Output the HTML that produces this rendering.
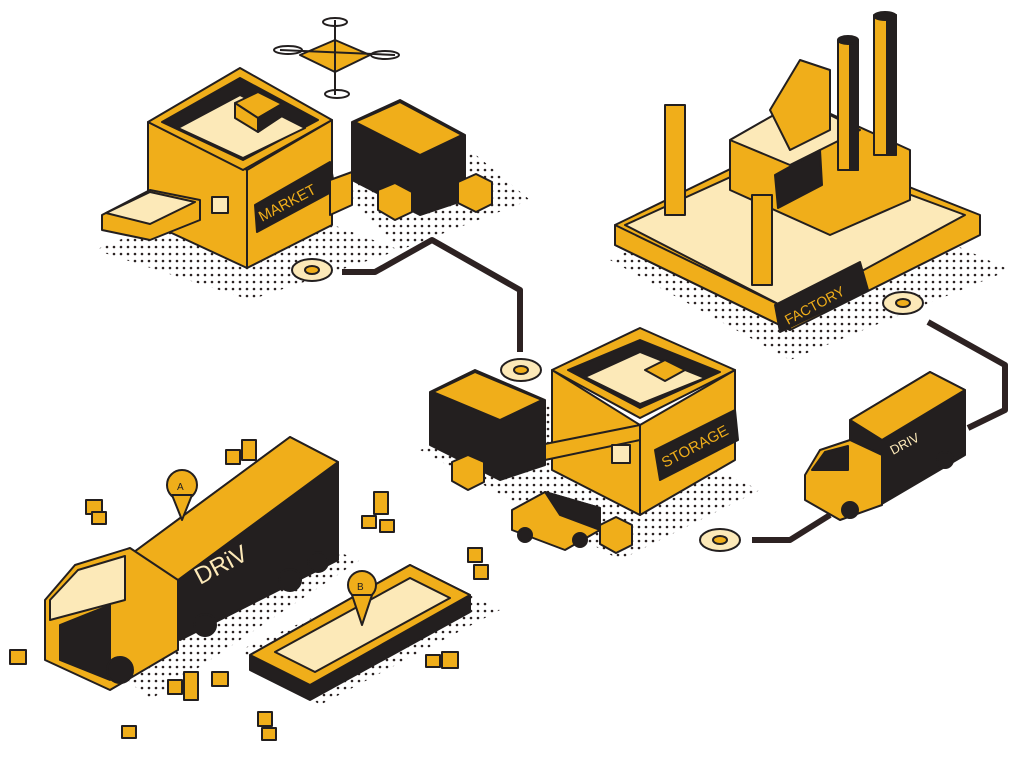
<!DOCTYPE html>
<html><head><meta charset="utf-8"><style>
html,body{margin:0;padding:0;background:#fff}
svg{display:block}
text{font-family:"Liberation Sans",sans-serif;stroke:none}
</style></head><body>
<svg width="1024" height="772" viewBox="0 0 1024 772" xmlns="http://www.w3.org/2000/svg">
<defs>
<pattern id="d" width="7" height="7" patternUnits="userSpaceOnUse"><circle cx="2" cy="2" r="1.3" fill="#2a2222"/></pattern>
</defs>
<g stroke="#231f1f" stroke-width="2" stroke-linejoin="round">
<polygon points="95,250 240,190 400,250 250,300" fill="url(#d)" stroke="none"/>
<polygon points="340,190 470,150 530,200 400,250" fill="url(#d)" stroke="none"/>
<polygon points="610,260 790,170 1010,270 790,360" fill="url(#d)" stroke="none"/>
<polygon points="420,450 560,400 760,490 620,560" fill="url(#d)" stroke="none"/>
<polygon points="60,620 250,520 360,560 150,700" fill="url(#d)" stroke="none"/>
<polygon points="240,650 420,570 500,610 320,705" fill="url(#d)" stroke="none"/>

<polyline points="342,272 375,272 432,240 520,290 520,352" fill="none" stroke="#2d2222" stroke-width="6"/>
<polyline points="928,322 1005,365 1005,410 968,428" fill="none" stroke="#2d2222" stroke-width="6"/>
<polyline points="752,540 790,540 830,515" fill="none" stroke="#2d2222" stroke-width="6"/>
<ellipse cx="312" cy="270" rx="20" ry="11" fill="#fce9b8"/><ellipse cx="312" cy="270" rx="7" ry="4" fill="#f0ae1a"/>
<ellipse cx="521" cy="370" rx="20" ry="11" fill="#fce9b8"/><ellipse cx="521" cy="370" rx="7" ry="4" fill="#f0ae1a"/>
<ellipse cx="903" cy="303" rx="20" ry="11" fill="#fce9b8"/><ellipse cx="903" cy="303" rx="7" ry="4" fill="#f0ae1a"/>
<ellipse cx="720" cy="540" rx="20" ry="11" fill="#fce9b8"/><ellipse cx="720" cy="540" rx="7" ry="4" fill="#f0ae1a"/>

<polygon points="300,55 335,40 370,55 335,72" fill="#f0ae1a"/>
<line x1="280" y1="50" x2="395" y2="55"/><line x1="335" y1="20" x2="335" y2="95"/>
<ellipse cx="288" cy="50" rx="14" ry="4" fill="none"/><ellipse cx="385" cy="55" rx="14" ry="4" fill="none"/>
<ellipse cx="335" cy="22" rx="12" ry="4" fill="none"/><ellipse cx="337" cy="94" rx="12" ry="4" fill="none"/>

<polygon points="148,122 148,222 247,268 247,170" fill="#f0ae1a"/>
<polygon points="247,170 247,268 332,225 332,120" fill="#f0ae1a"/>
<polygon points="148,122 240,68 332,120 243,170" fill="#f0ae1a"/>
<polygon points="162,122 240,78 318,120 243,160" fill="#231f1f"/>
<polygon points="178,128 240,95 305,128 243,158" fill="#fce9b8"/>
<polygon points="235,103 258,92 282,104 258,118" fill="#f0ae1a"/>
<polygon points="235,103 258,118 258,132 235,118" fill="#f0ae1a"/>
<polygon points="258,118 282,104 282,116 258,132" fill="#231f1f"/>
<polygon points="255,205 330,162 335,190 257,232" fill="#231f1f"/>
<text x="262" y="222" fill="#f0ae1a" font-size="15" transform="rotate(-28 262 222)">MARKET</text>
<polygon points="102,215 150,190 200,200 200,220 150,240 102,230" fill="#f0ae1a"/>
<polygon points="106,213 150,192 195,202 150,224" fill="#fce9b8"/>
<rect x="212" y="197" width="16" height="16" fill="#fce9b8"/>
<polygon points="330,180 352,172 352,205 330,215" fill="#f0ae1a"/>
<polygon points="352,122 400,100 465,135 465,200 420,215 352,180" fill="#231f1f"/>
<polygon points="355,122 400,102 462,135 420,155" fill="#f0ae1a"/>
<polygon points="378,190 395,183 412,192 412,212 395,220 378,210" fill="#f0ae1a"/>
<polygon points="458,182 476,174 492,182 492,204 476,212 458,203" fill="#f0ae1a"/>

<polygon points="615,225 790,140 980,215 980,235 790,330 615,245" fill="#f0ae1a"/>
<polygon points="625,225 790,150 965,215 790,310" fill="#fce9b8"/>
<polygon points="790,310 790,330 615,245 615,225" fill="#f0ae1a"/>
<polygon points="775,305 860,262 868,290 780,332" fill="#231f1f"/>
<text x="788" y="325" fill="#f0ae1a" font-size="14" transform="rotate(-28 788 325)">FACTORY</text>
<polygon points="730,140 800,100 910,150 910,200 830,235 730,190" fill="#f0ae1a"/>
<polygon points="730,140 800,100 860,130 790,165" fill="#fce9b8"/>
<polygon points="775,175 820,150 822,185 778,208" fill="#231f1f"/>
<polygon points="770,110 800,60 830,70 830,130 790,150" fill="#f0ae1a"/>
<rect x="838" y="40" width="20" height="130" fill="#f0ae1a"/><rect x="850" y="40" width="8" height="130" fill="#231f1f"/>
<ellipse cx="848" cy="40" rx="10" ry="4" fill="#231f1f"/>
<rect x="874" y="15" width="22" height="140" fill="#f0ae1a"/><rect x="887" y="15" width="9" height="140" fill="#231f1f"/>
<ellipse cx="885" cy="16" rx="11" ry="4" fill="#231f1f"/>
<rect x="665" y="105" width="20" height="110" fill="#f0ae1a"/>
<rect x="752" y="195" width="20" height="90" fill="#f0ae1a"/>

<polygon points="552,370 552,470 640,515 640,425" fill="#f0ae1a"/>
<polygon points="640,425 640,515 735,460 735,370" fill="#f0ae1a"/>
<polygon points="552,370 640,328 735,370 640,418" fill="#f0ae1a"/>
<polygon points="568,370 640,340 720,372 640,408" fill="#231f1f"/>
<polygon points="585,377 640,352 705,378 640,404" fill="#fce9b8"/>
<polygon points="645,370 665,360 685,370 665,381" fill="#f0ae1a"/>
<polygon points="655,450 735,410 738,440 660,480" fill="#231f1f"/>
<text x="665" y="468" fill="#f0ae1a" font-size="15" transform="rotate(-28 665 468)">STORAGE</text>
<polygon points="540,445 640,425 640,440 545,460" fill="#f0ae1a"/>
<rect x="612" y="445" width="18" height="18" fill="#fce9b8"/>
<polygon points="430,392 475,370 545,400 545,465 500,480 430,445" fill="#231f1f"/>
<polygon points="433,392 475,372 542,400 500,420" fill="#f0ae1a"/>
<polygon points="452,462 468,455 484,462 484,482 468,490 452,481" fill="#f0ae1a"/>
<polygon points="512,510 545,492 600,508 600,530 565,550 512,530" fill="#f0ae1a"/>
<polygon points="545,492 600,508 600,530 560,515" fill="#231f1f"/>
<circle cx="525" cy="535" r="7" fill="#231f1f"/><circle cx="580" cy="540" r="7" fill="#231f1f"/>
<polygon points="600,525 616,517 632,525 632,545 616,553 600,544" fill="#f0ae1a"/>

<polygon points="850,420 930,372 965,390 965,455 880,505 850,490" fill="#231f1f"/>
<polygon points="850,420 930,372 965,390 882,440" fill="#f0ae1a"/>
<polygon points="805,475 820,450 850,440 882,455 882,505 840,520 805,500" fill="#f0ae1a"/>
<polygon points="812,470 825,452 848,446 848,470" fill="#231f1f"/>
<circle cx="850" cy="510" r="8" fill="#231f1f"/><circle cx="945" cy="460" r="8" fill="#231f1f"/>
<text x="893" y="455" fill="#fce9b8" font-size="13" transform="rotate(-28 893 455)">DRIV</text>

<polygon points="130,555 290,437 338,462 338,560 180,640 130,620" fill="#231f1f"/>
<polygon points="130,555 290,437 338,462 178,580" fill="#f0ae1a"/>
<polygon points="45,600 75,565 130,548 178,580 178,650 110,690 45,660" fill="#f0ae1a"/>
<polygon points="50,600 78,570 125,556 125,600 50,620" fill="#fce9b8"/>
<polygon points="60,625 110,605 110,680 60,660" fill="#231f1f"/>
<circle cx="120" cy="670" r="13" fill="#231f1f"/><circle cx="205" cy="625" r="11" fill="#231f1f"/><circle cx="290" cy="580" r="11" fill="#231f1f"/><circle cx="318" cy="562" r="10" fill="#231f1f"/>
<text x="200" y="585" fill="#fce9b8" font-size="24" transform="rotate(-28 200 585)">DRiV</text>
<circle cx="182" cy="485" r="15" fill="#f0ae1a"/><polygon points="172,495 192,495 182,520" fill="#f0ae1a"/>
<text x="177" y="490" font-size="10" fill="#231f1f">A</text>

<polygon points="250,655 410,565 470,595 470,612 310,700 250,670" fill="#231f1f"/>
<polygon points="250,655 410,565 470,595 310,685" fill="#f0ae1a"/>
<polygon points="275,652 410,578 450,598 315,672" fill="#fce9b8"/>
<circle cx="362" cy="585" r="14" fill="#f0ae1a"/><polygon points="352,595 372,595 362,625" fill="#f0ae1a"/>
<text x="357" y="590" font-size="10" fill="#231f1f">B</text>

<g fill="#f0ae1a">
<rect x="86" y="500" width="16" height="14"/><rect x="92" y="512" width="14" height="12"/>
<rect x="226" y="450" width="14" height="14"/><rect x="242" y="440" width="14" height="20"/>
<rect x="374" y="492" width="14" height="22"/><rect x="362" y="516" width="14" height="12"/><rect x="380" y="520" width="14" height="12"/>
<rect x="468" y="548" width="14" height="14"/><rect x="474" y="565" width="14" height="14"/>
<rect x="10" y="650" width="16" height="14"/>
<rect x="168" y="680" width="14" height="14"/><rect x="184" y="672" width="14" height="28"/><rect x="212" y="672" width="16" height="14"/>
<rect x="426" y="655" width="14" height="12"/><rect x="442" y="652" width="16" height="16"/>
<rect x="122" y="726" width="14" height="12"/>
<rect x="258" y="712" width="14" height="14"/><rect x="262" y="728" width="14" height="12"/>
</g>
</g>
</svg>
</body></html>
